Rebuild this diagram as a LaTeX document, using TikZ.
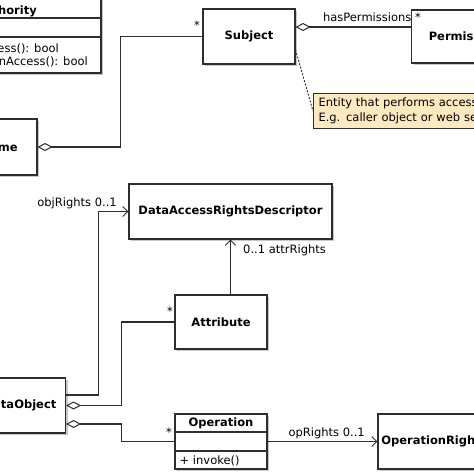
\documentclass[tikz,border=0pt]{standalone}
\usepackage{fontspec}
\setmainfont{DejaVu Sans}
\usepackage{tikz}
\usetikzlibrary{calc,arrows.meta,shadows}
\definecolor{notefill}{RGB}{255,233,192}
\definecolor{umlline}{RGB}{45,45,45}
\newcommand{\umlsize}{\fontsize{11.5}{15}\selectfont}
\tikzset{
  cls/.style={draw=umlline,fill=white,line width=1.1pt,inner sep=0pt,
    font=\umlsize\bfseries,drop shadow={shadow xshift=2pt,shadow yshift=-2pt,fill=black!22,opacity=1}},
  lbl/.style={font=\umlsize,inner sep=0pt},
  conn/.style={draw=umlline,line width=1.1pt},
  aggr/.style={conn,{Diamond[length=15pt,width=8pt,fill=white,line width=1pt]}-},
  nav/.style={conn,-{Straight Barb[length=5pt,width=10pt,line width=1pt]}},
}

\begin{document}
\begin{tikzpicture}[x=1pt,y=-1pt]
    \useasboundingbox (0,0) rectangle (474,474);
    \clip (0,0) rectangle (474,474);

    % authority (cut at the left)
    \node[cls,minimum width=191pt,minimum height=83pt] (auth) at (5.5,31.5) {};
    \draw[conn] (auth.west |- 0,18) -- (auth.east |- 0,18);
    \draw[conn] (auth.west |- 0,37) -- (auth.east |- 0,37);
    \node[lbl,font=\umlsize\bfseries,anchor=base east] (authname) at (37,14) {Authority};
    \node[lbl,anchor=base east] (authm1) at (59,52) {+ hasAccess(): bool};
    \node[lbl,anchor=base east] (authm2) at (88,65) {+ hasOwnAccess(): bool};

    % subject side
    \node[cls,minimum width=93pt,minimum height=56pt] (rt) at (-9.5,147) {Runtime};
    \node[cls,minimum width=92pt,minimum height=55pt] (subj) at (249,36.5) {Subject};
    \node[cls,minimum width=113pt,minimum height=53pt] (perm) at (468,36.5) {Permissions};
    \node[draw=umlline,fill=notefill,line width=1pt,anchor=north west,
      minimum width=250pt,minimum height=35pt,inner sep=1.5pt,align=left,
      font=\umlsize,text width=240pt] (note) at (313,93)
      {Entity that performs access\\E.g. caller object or web service};

    \draw[aggr] (rt.east) -- ++(83,0) |- (subj.west);
    \node[lbl] (subjmul) at (197,25) {*};
    \draw[aggr] ([yshift=9.5pt]subj.east) -- ([yshift=9.5pt]perm.west);
    \node[lbl,anchor=base east] (permrole) at (421,21) {hasPermissions *};
    \draw[conn,line width=0.9pt,dash pattern=on 2pt off 1.5pt] (subj.-16) -- (note.west);

    % data object side
    \node[cls,minimum width=91pt,minimum height=55pt] (dobj) at (20,405.5) {DataObject};
    \node[cls,minimum width=203pt,minimum height=55pt] (dard) at (230.5,211.5) {DataAccessRightsDescriptor};
    \node[cls,minimum width=92pt,minimum height=54pt] (attr) at (221,322) {Attribute};
    \node[cls,minimum width=92pt,minimum height=55pt] (op) at (221,441.5) {};
    \draw[conn] (op.west |- 0,432) -- (op.east |- 0,432);
    \draw[conn] (op.west |- 0,451) -- (op.east |- 0,451);
    \node[lbl,font=\umlsize\bfseries] (opname) at (221,423) {Operation};
    \node[lbl,anchor=base west] (opm) at (179.5,464) {+ invoke()};
    \node[cls,minimum width=113pt,minimum height=55pt] (oprt) at (434.5,441.5) {OperationRights};

    \draw[nav] ([yshift=10.5pt]dobj.east) -- ++(32,0) |- (dard.west);
    \node[lbl,anchor=base east] (objr) at (117,206) {objRights 0..1};
    \draw[aggr] (dobj.east) -- ++(55,0) |- (attr.west);
    \node[lbl] (attrmul) at (170,311) {*};
    \draw[nav] (attr.north -| dard.south) -- (dard.south);
    \node[lbl,anchor=base west] (attrr) at (243,253) {0..1 attrRights};
    \draw[aggr] ([yshift=-18.5pt]dobj.east) -- ++(55,0) |- (op.west);
    \node[lbl] (opmul) at (169,432) {*};
    \draw[nav] (op.east) -- (oprt.west);
    \node[lbl,anchor=base east] (opr) at (365,436) {opRights 0..1};
\end{tikzpicture}
\end{document}
